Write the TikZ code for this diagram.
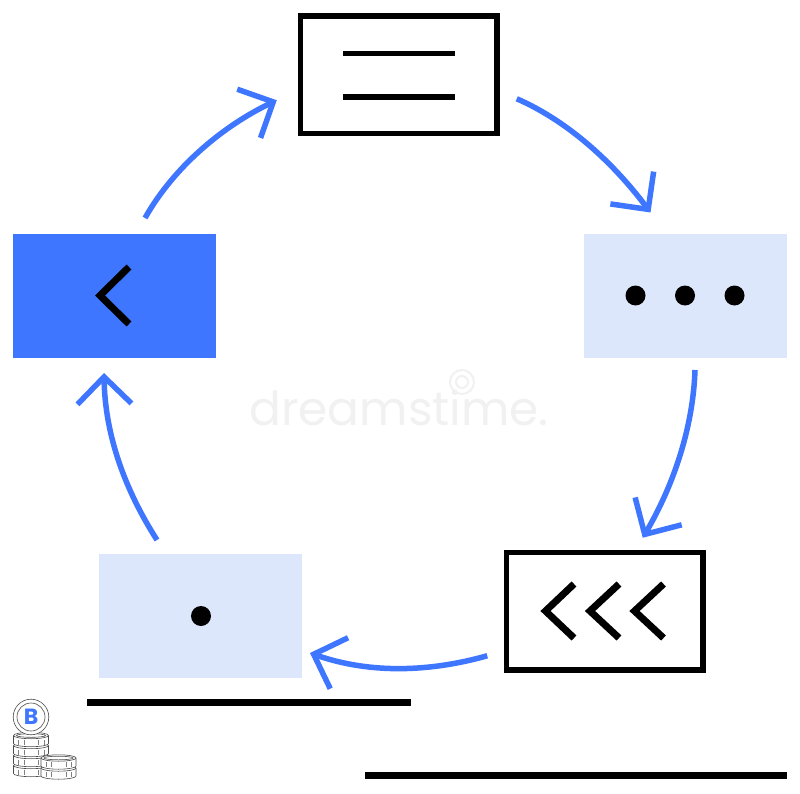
\documentclass[tikz,border=0pt]{standalone}
\usepackage{fontspec}
\setmainfont{Poppins}
\usetikzlibrary{arrows.meta,calc}
\definecolor{bluemain}{HTML}{3F76FF}
\definecolor{bluelight}{HTML}{DCE7FB}
\definecolor{wmark}{HTML}{F1F1F1}
\tikzset{
  x=1pt,y=-1pt,
  boxbase/.style={rectangle,minimum width=#1,minimum height=124pt,inner sep=0pt,outer sep=0pt},
  outlinebox/.style={rectangle,draw=black,line width=5.5pt,fill=white,minimum width=196.5pt,minimum height=117.5pt,inner sep=0pt,outer sep=0pt},
  lightbox/.style={boxbase=203pt,fill=bluelight},
  solidbox/.style={boxbase=203pt,fill=bluemain},
  flow/.style={draw=bluemain,line width=5.5pt,-{Straight Barb[length=27pt,width=54pt,line width=5.5pt]}},
  inkline/.style={draw=black,line width=5.5pt},
  chev/.style={draw=black,line width=7pt,miter limit=10},
  baseline/.style={draw=black,line width=6.5pt},
  dot/.style={circle,fill=black,minimum size=20pt,inner sep=0pt},
  coinline/.style={draw=black!70,line width=0.6pt,fill=white},
}
\begin{document}
\begin{tikzpicture}
\useasboundingbox (0,0) rectangle (800,794);
\fill[white] (0,0) rectangle (800,794);
% watermark
\node[text=wmark,font=\fontsize{47}{47}\selectfont,inner sep=0pt] (wm) at (399,408) {dreamstime.};
\draw[wmark,line width=2pt] (462,382) circle (12);
\draw[wmark,line width=2pt] (462,382) circle (6);
% boxes
\node[outlinebox] (top) at (398.5,75) {};
\node[lightbox] (right) at (685.5,296) {};
\node[outlinebox] (br) at (604.5,611) {};
\node[lightbox] (bl) at (200.5,616) {};
\node[solidbox] (left) at (114.5,296) {};
% box glyphs
\draw[inkline] (343,53.5) -- (455,53.5);
\draw[inkline] (343,97) -- (455,97);
\node[dot] (d1) at (635.5,295.5) {};
\node[dot] (d2) at (685,295.5) {};
\node[dot] (d3) at (734.5,295.5) {};
\node[dot] (d4) at (201,616) {};
\draw[chev] (129,267) -- (100,295.5) -- (129,324);
\draw[chev] (574,584) -- (545.5,611) -- (574,638);
\draw[chev] (619,584) -- (590,611) -- (619,638);
\draw[chev] (663.5,584) -- (634.5,611) -- (663.5,638);
% connectors
\draw[flow] ([shift={(30.5,-16)}]left.north) .. controls (175,165) and (225,125) .. ([shift={(-23.5,84)}]top.north west);
\draw[flow] ([shift={(20,-35)}]top.south east) .. controls (570,122) and (615,165) .. ([shift={(66.5,-21.5)}]right.north west);
\draw[flow] ([shift={(9.5,12)}]right.south) .. controls (693,430) and (672,488) .. ([shift={(136.5,-14.5)}]br.north west);
\draw[flow] ([shift={(-19,-14)}]br.south west) .. controls (430,672) and (370,674) .. ([shift={(8,-25)}]bl.south east);
\draw[flow] ([shift={(-43.5,-14)}]bl.north) .. controls (125,490) and (105,435) .. ([shift={(-10.5,15)}]left.south);
% baselines
\coordinate (b1a) at (87,702.5); \coordinate (b1b) at (411,702.5);
\coordinate (b2a) at (365,775.5); \coordinate (b2b) at (787,775.5);
\draw[baseline] (b1a) -- (b1b);
\draw[baseline] (b2a) -- (b2b);
% coins
\foreach \y in {765.5,755.5,745.5,735.5}{
  \draw[coinline] (13.5,\y) -- (13.5,\y+8) arc[start angle=180,end angle=360,x radius=17.5,y radius=-3.2] -- (48.5,\y);
  \draw[coinline] (31,\y) ellipse (17.5 and 3.2);
  \foreach \x in {18,24,38,44}{\draw[black!50,line width=0.5pt] (\x,\y+4) -- (\x,\y+9);}
}
\draw[coinline] (31,735.5) ellipse (14.5 and 1.8);
\foreach \y in {768,758}{
  \draw[coinline] (41,\y) -- (41,\y+8) arc[start angle=180,end angle=360,x radius=17.5,y radius=-3.2] -- (76,\y);
  \draw[coinline] (58.5,\y) ellipse (17.5 and 3.2);
  \foreach \x in {46,51,66,71}{\draw[black!50,line width=0.5pt] (\x,\y+4) -- (\x,\y+9);}
}
\draw[coinline] (58.5,758) ellipse (14.5 and 1.8);
\draw[coinline] (31,717) circle (17.8);
\draw[coinline] (31,717) circle (14);
\node[text=bluemain,font=\fontsize{22}{22}\selectfont\bfseries,inner sep=0pt] (btc) at (31,717) {B};
\end{tikzpicture}
\end{document}
